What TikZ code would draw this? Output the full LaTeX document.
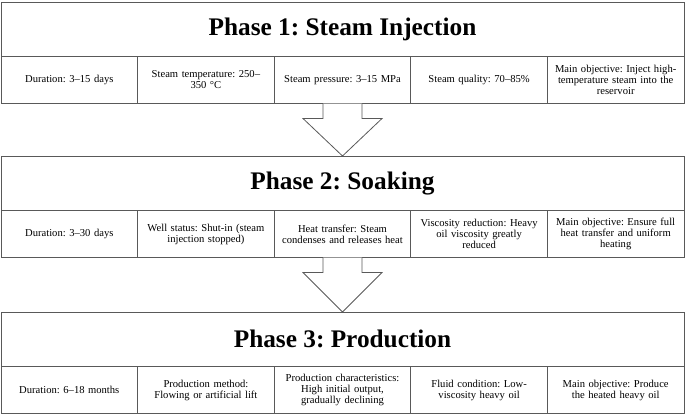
\documentclass[tikz,border=0pt]{standalone}
\usepackage{fontspec}
\setmainfont{Liberation Serif}
\usetikzlibrary{positioning,calc}
\frenchspacing

\tikzset{
  box/.style={draw=black!65,line width=0.8pt,inner sep=0pt,outer sep=0pt},
  phasetitle/.style={box,minimum width=683pt,minimum height=54.5pt,font=\fontsize{25.3}{29}\selectfont\bfseries},
  cell/.style={box,minimum width=136.6pt,minimum height=47pt,text width=130pt,align=center,font=\fontsize{10.6}{11}\selectfont},
  blockarrow/.style={draw=black!65,line width=0.8pt,fill=white,line join=miter}
}

\begin{document}
\begin{tikzpicture}[x=1pt,y=1pt]
  \useasboundingbox (0,0) rectangle (685,-415);
  % phase 1
  \node[phasetitle,anchor=north west] (t1) at (1,-2) {Phase 1: Steam Injection};
  \node[cell,anchor=north west] (c11) at (t1.south west) {Duration: 3–15 days};
  \node[cell,right=0pt of c11] (c12) {Steam temperature: 250–\\350 °C};
  \node[cell,right=0pt of c12] (c13) {Steam pressure: 3–15 MPa};
  \node[cell,right=0pt of c13] (c14) {Steam quality: 70–85\%};
  \node[cell,right=0pt of c14] (c15) {Main objective: Inject high-\\temperature steam into the\\reservoir};
  % phase 2
  \node[phasetitle,anchor=north west] (t2) at (1,-156) {Phase 2: Soaking};
  \node[cell,anchor=north west] (c21) at (t2.south west) {Duration: 3–30 days};
  \node[cell,right=0pt of c21] (c22) {Well status: Shut-in (steam\\injection stopped)};
  \node[cell,right=0pt of c22] (c23) {Heat transfer: Steam\\condenses and releases heat};
  \node[cell,right=0pt of c23] (c24) {Viscosity reduction: Heavy\\oil viscosity greatly\\reduced};
  \node[cell,right=0pt of c24] (c25) {Main objective: Ensure full\\heat transfer and uniform\\heating};
  % phase 3
  \node[phasetitle,anchor=north west] (t3) at (1,-312) {Phase 3: Production};
  \node[cell,anchor=north west] (c31) at (t3.south west) {Duration: 6–18 months};
  \node[cell,right=0pt of c31] (c32) {Production method:\\Flowing or artificial lift};
  \node[cell,right=0pt of c32] (c33) {Production characteristics:\\High initial output,\\gradually declining};
  \node[cell,right=0pt of c33] (c34) {Fluid condition: Low-\\viscosity heavy oil};
  \node[cell,right=0pt of c34] (c35) {Main objective: Produce\\the heated heavy oil};
  % arrows between phases
  \foreach \a/\b in {c13/t2,c23/t3}{
    \draw[blockarrow] ($(\a.south)+(-19.5,0)$) -- ++(0,-15) -- ++(-20,0) -- (\b.north)
      -- ($(\a.south)+(39.5,-15)$) -- ++(-20,0) -- ++(0,15);
  }
\end{tikzpicture}
\end{document}
